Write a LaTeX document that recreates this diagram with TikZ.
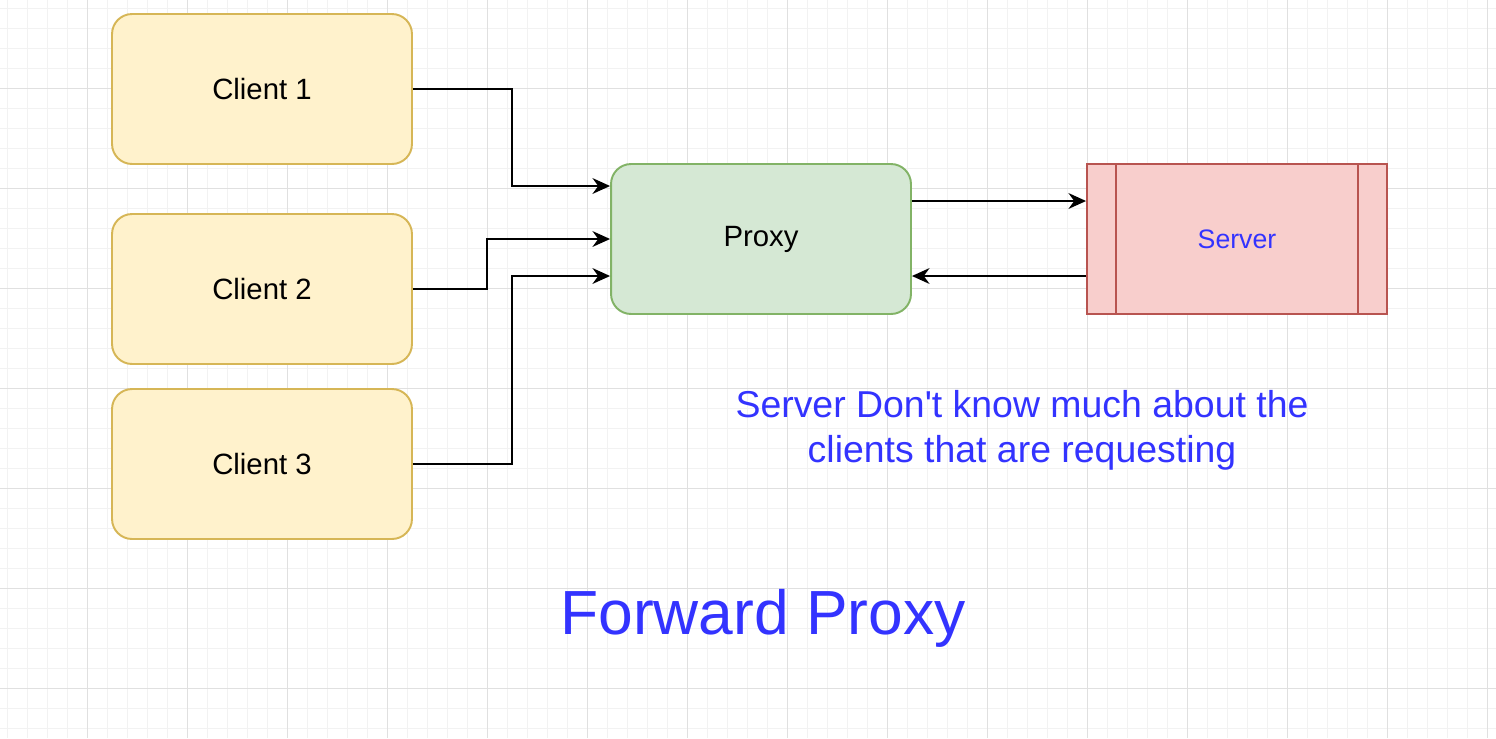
\documentclass[tikz,border=0pt]{standalone}
\usepackage{fontspec}
\setmainfont{Liberation Sans}
\usetikzlibrary{arrows.meta, positioning}
\definecolor{clientfill}{HTML}{FFF2CC}
\definecolor{clientdraw}{HTML}{D6B656}
\definecolor{proxyfill}{HTML}{D5E8D4}
\definecolor{proxydraw}{HTML}{82B366}
\definecolor{serverfill}{HTML}{F8CECC}
\definecolor{serverdraw}{HTML}{B85450}
\definecolor{notetext}{HTML}{3333FF}
\tikzset{>={Stealth[length=10pt,width=9pt]}}
\tikzset{
  client/.style={draw=clientdraw, fill=clientfill, line width=1.1pt, rounded corners=0.4cm,
    minimum width=6cm, minimum height=3cm, font=\fontsize{16.7}{20}\selectfont},
  proxybox/.style={draw=proxydraw, fill=proxyfill, line width=1.1pt, rounded corners=0.4cm,
    minimum width=6cm, minimum height=3cm, font=\fontsize{16.7}{20}\selectfont},
  serverbox/.style={draw=serverdraw, fill=serverfill, line width=1.1pt,
    minimum width=6cm, minimum height=3cm, text=notetext, font=\fontsize{15.2}{18}\selectfont},
  link/.style={->, line width=1.1pt}
}
\begin{document}
\begin{tikzpicture}[x=0.02cm, y=-0.02cm]
  \useasboundingbox (0,0) rectangle (1496,738);
  \fill[white] (0,0) rectangle (1496,738);
  % grid
  \foreach \x in {7,27,...,1496}
      \draw[black!5, line width=0.4pt] (\x,0)--(\x,738);
  \foreach \y in {8,28,...,738}
      \draw[black!5, line width=0.4pt] (0,\y)--(1496,\y);
  \foreach \x in {87,187,...,1496}
      \draw[black!12, line width=0.5pt] (\x,0)--(\x,738);
  \foreach \y in {88,188,...,738}
      \draw[black!12, line width=0.5pt] (0,\y)--(1496,\y);

  \node[client] (c1) at (262,89) {Client 1};
  \node[client] (c2) at (262,289) {Client 2};
  \node[client] (c3) at (262,464) {Client 3};
  \node[proxybox] (proxy) at (761,239) {Proxy};
  \node[serverbox] (server) at (1237,239) {Server};
  \draw[serverdraw, line width=1.1pt] ([xshift=0.6cm]server.north west)--([xshift=0.6cm]server.south west);
  \draw[serverdraw, line width=1.1pt] ([xshift=-0.6cm]server.north east)--([xshift=-0.6cm]server.south east);

  \draw[link] (c1.east) -- (512,89) -- (512,186) -- (proxy.west |- 0,186);
  \draw[link] (c2.east) -- (487,289) -- (487,239) -- (proxy.west);
  \draw[link] (c3.east) -- (512,464) -- (512,276) -- (proxy.west |- 0,276);
  \draw[link] (proxy.east |- 0,201) -- (server.west |- 0,201);
  \draw[link] (server.west |- 0,276) -- (proxy.east |- 0,276);

  \node[text=notetext, align=center, font=\fontsize{21.3}{25.5}\selectfont] (note) at (1022,430)
      {Server Don\textquotesingle t know much about the\\clients that are requesting};
  \node[text=notetext, font=\fontsize{35.5}{40}\selectfont] (title) at (763,618) {Forward Proxy};
\end{tikzpicture}
\end{document}
